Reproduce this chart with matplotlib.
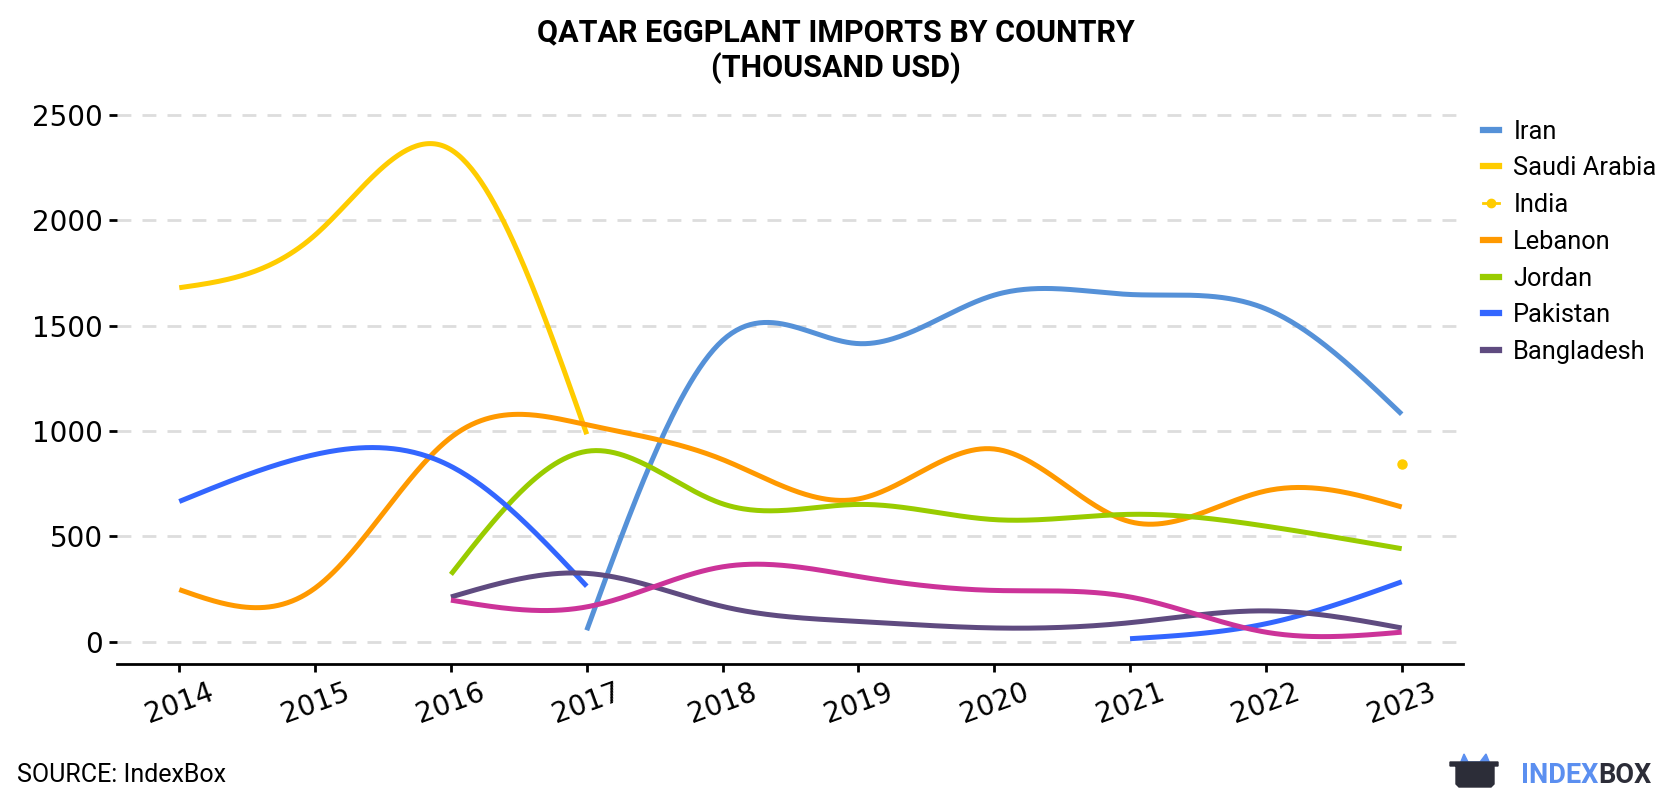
import numpy as np
import matplotlib.pyplot as plt
from matplotlib.lines import Line2D
from matplotlib.patches import Polygon

years = [2014, 2015, 2016, 2017, 2018, 2019, 2020, 2021, 2022, 2023]
nan = np.nan

iran = [nan, nan, nan, 55, 1430, 1415, 1645, 1648, 1580, 1080]
saudi_arabia = [1680, 1930, 2335, 985, nan, nan, nan, nan, nan, nan]
india = [nan, nan, nan, nan, nan, nan, nan, nan, nan, 843]
lebanon = [248, 255, 970, 1030, 865, 678, 915, 570, 716, 640]
jordan = [nan, nan, 320, 904, 655, 652, 580, 605, 549, 442]
pakistan = [666, 889, 833, 264, nan, nan, nan, 15, 86, 285]
bangladesh = [nan, nan, 213, 325, 168, 97, 66, 91, 147, 66]
unlisted = [nan, nan, 198, 166, 356, 310, 244, 213, 46, 46]

series = [
    ('Iran', iran, '#5591d8'),
    ('Saudi Arabia', saudi_arabia, '#ffcc00'),
    ('Lebanon', lebanon, '#ff9900'),
    ('Jordan', jordan, '#99cc00'),
    ('Pakistan', pakistan, '#3366ff'),
    ('Bangladesh', bangladesh, '#5f4b80'),
    ('_unlisted', unlisted, '#cc3399'),
]


def natural_spline(xs, ys, n=60):
    xs = np.asarray(xs, float)
    ys = np.asarray(ys, float)
    k = len(xs)
    if k < 3:
        return xs, ys
    h = np.diff(xs)
    A = np.zeros((k, k))
    b = np.zeros(k)
    A[0, 0] = 1
    A[-1, -1] = 1
    for i in range(1, k - 1):
        A[i, i - 1] = h[i - 1]
        A[i, i] = 2 * (h[i - 1] + h[i])
        A[i, i + 1] = h[i]
        b[i] = 6 * ((ys[i + 1] - ys[i]) / h[i] - (ys[i] - ys[i - 1]) / h[i - 1])
    M = np.linalg.solve(A, b)
    out_x, out_y = [], []
    for i in range(k - 1):
        t = np.linspace(xs[i], xs[i + 1], n)
        a = xs[i + 1] - t
        c = t - xs[i]
        y = (M[i] * a ** 3 + M[i + 1] * c ** 3) / (6 * h[i]) \
            + (ys[i] / h[i] - M[i] * h[i] / 6) * a \
            + (ys[i + 1] / h[i] - M[i + 1] * h[i] / 6) * c
        out_x.extend(t)
        out_y.extend(y)
    return np.array(out_x), np.array(out_y)


def runs(xs, ys):
    # split a series into pieces without gaps
    pieces, cur = [], []
    for x, y in zip(xs, ys):
        if np.isnan(y):
            if cur:
                pieces.append(cur)
            cur = []
        else:
            cur.append((x, y))
    if cur:
        pieces.append(cur)
    return pieces


fig = plt.figure(figsize=(16.8, 8), dpi=100)
ax = fig.add_axes([0.0696, 0.17, 0.8012, 0.718])

for name, vals, color in series:
    for p in runs(years, vals):
        px, py = zip(*p)
        sx, sy = natural_spline(px, py)
        ax.plot(sx, sy, color=color, lw=3.6, solid_capstyle='butt', zorder=3)

ax.plot(years, india, 'o', color='#ffcc00', ms=6.5, zorder=4)

ax.set_xlim(2013.541, 2023.451)
ax.set_ylim(-105, 2620)
ax.set_yticks([0, 500, 1000, 1500, 2000, 2500])
ax.set_xticks(years)
ax.set_xticklabels([str(y) for y in years], rotation=20, ha='center')
ax.grid(axis='y', color='#dddddd', lw=2, dashes=(5, 4))
ax.set_axisbelow(True)
for s in ['top', 'right', 'left']:
    ax.spines[s].set_visible(False)
ax.spines['bottom'].set_linewidth(2)
ax.tick_params(axis='y', length=6, width=2, pad=4, labelsize=20)
ax.tick_params(axis='x', length=6, width=2, pad=4, labelsize=20)

fig.text(0.4976, 0.979, 'QATAR EGGPLANT IMPORTS BY COUNTRY\n(THOUSAND USD)',
         ha='center', va='top', fontsize=22, fontweight='bold',
         family='Roboto', linespacing=1.2)

handles = []
for name, vals, color in series[:6]:
    handles.append(Line2D([], [], color=color, lw=4.5, label=name))
india_h = Line2D([], [], color='#ffcc00', lw=2, marker='o', ms=6, label='India')
handles.insert(2, india_h)
fig.legend(handles=handles, loc='upper left', bbox_to_anchor=(0.869, 0.879),
           frameon=False, prop={'family': 'Roboto', 'size': 18.3},
           handlelength=0.65, handletextpad=0.55, labelspacing=0.5)

fig.text(0.010, 0.031, 'SOURCE: IndexBox', fontsize=18, family='Roboto',
         ha='left', va='center')

# logo
fig.text(0.9515, 0.031, 'INDEX', fontsize=19.5, family='Roboto', fontweight='bold',
         color='#5b8ff0', ha='right', va='center')
fig.text(0.9515, 0.031, 'BOX', fontsize=19.5, family='Roboto', fontweight='bold',
         color='#2c2d38', ha='left', va='center')
lax = fig.add_axes([1448 / 1680, 12 / 800, 54 / 1680, 36 / 800])
lax.set_xlim(0, 54)
lax.set_ylim(0, 36)
lax.axis('off')
lax.add_patch(Polygon([[12, 24], [16, 34], [20, 26], [32, 26], [38, 34], [42, 24],
                       [42, 14], [12, 14]], closed=True, color='#5b8ff0'))
lax.add_patch(Polygon([[2, 26], [50, 26], [50, 22], [46, 22], [46, 4], [43, 1],
                       [11, 1], [8, 4], [8, 22], [28, 22], [28, 14], [26, 22],
                       [2, 22]], closed=True, color='#2c2d38'))

fig.savefig('out.png', dpi=100)
